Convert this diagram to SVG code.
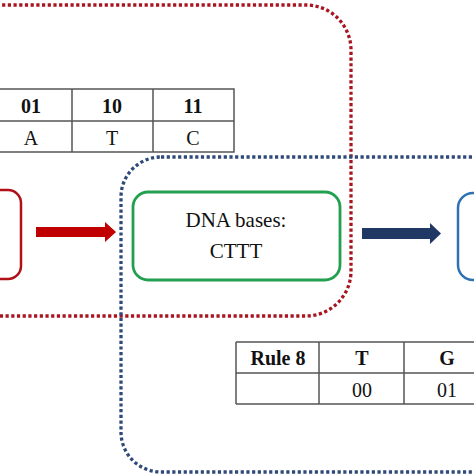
<svg xmlns="http://www.w3.org/2000/svg" width="474" height="474" viewBox="0 0 474 474">
<style>
.t{font-family:"Liberation Serif","Times New Roman",serif;font-size:20px;fill:#111;text-anchor:middle}
.b{font-weight:bold}
.grid{stroke:#555;stroke-width:1.5;fill:none}
.dotR{fill:none;stroke:#A8141F;stroke-width:3.3;stroke-dasharray:3.2 2.5}
.dotB{fill:none;stroke:#2F4A7A;stroke-width:3.3;stroke-dasharray:3.2 2.5}
</style>
<rect width="474" height="474" fill="#fff"/>
<g id="groups">
<rect class="dotR" x="-60" y="5" width="411" height="311" rx="45"/>
<rect class="dotB" x="121" y="157" width="420" height="315" rx="40"/>
</g>
<g id="table-top">
<path class="grid" d="M-2 89H234V152H-2M-2 121H234M72 89V152M153 89V152M234 89V152"/>
<text class="t b" x="31" y="113">01</text>
<text class="t b" x="112" y="113">10</text>
<text class="t b" x="193" y="113">11</text>
<text class="t" x="31" y="145">A</text>
<text class="t" x="112" y="145">T</text>
<text class="t" x="193" y="145">C</text>
</g>
<g id="node-left">
<rect x="-60" y="190" width="81" height="89" rx="13" fill="none" stroke="#B01018" stroke-width="2.5"/>
</g>
<g id="node-dna">
<rect x="133" y="192" width="207" height="88" rx="15" fill="none" stroke="#22A050" stroke-width="2.8"/>
<text class="t" x="236" y="227" style="font-size:21px">DNA bases:</text>
<text class="t" x="236" y="258" style="font-size:21px">CTTT</text>
</g>
<g id="node-right">
<rect x="458" y="193" width="80" height="87" rx="15" fill="none" stroke="#2E72B4" stroke-width="2.5"/>
</g>
<g id="table-bottom">
<path class="grid" d="M236 342H476M236 373H476M236 404H476M236 342V404M319 342V404M404 342V404"/>
<text class="t b" x="278" y="365">Rule 8</text>
<text class="t b" x="362" y="365">T</text>
<text class="t b" x="447" y="365">G</text>
<text class="t" x="362" y="397">00</text>
<text class="t" x="447" y="397">01</text>
</g>
<g id="connectors">
<polygon points="36,227 105,227 105,222 116,232 105,242 105,237 36,237" fill="#C00000"/>
<polygon points="362,228 430,228 430,223 441,233.5 430,244 430,239 362,239" fill="#203864"/>
</g>
</svg>
